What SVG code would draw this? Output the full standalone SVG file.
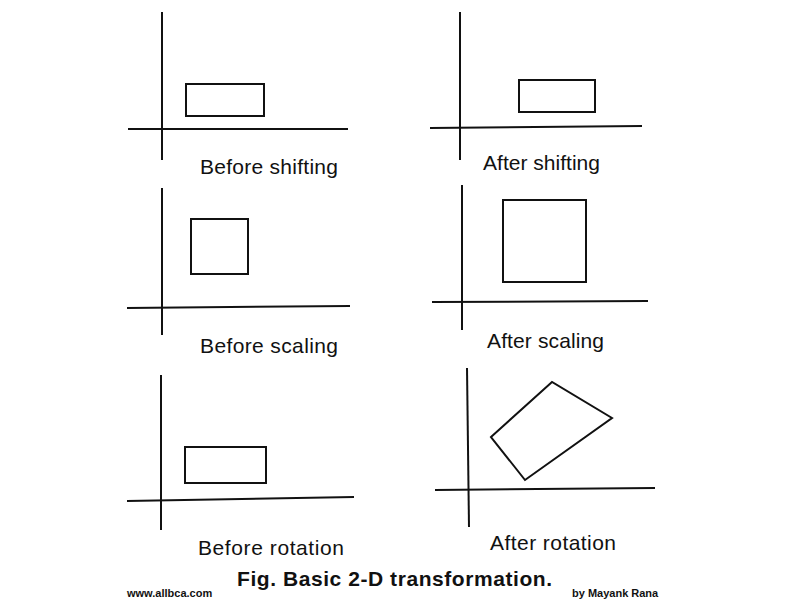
<svg xmlns="http://www.w3.org/2000/svg" width="800" height="600" viewBox="0 0 800 600">
<style>
line,.sh{stroke:#111;stroke-width:2;fill:none}
.l{font-family:"Liberation Sans",Arial,sans-serif;font-size:21px;fill:#111}
.s{font-family:"Liberation Sans",Arial,sans-serif;font-size:11px;font-weight:bold;fill:#111}
</style>
<rect x="0" y="0" width="800" height="600" fill="#fff"/>
<g id="axes">
<line x1="162" y1="12" x2="162" y2="160"/><line x1="128" y1="129" x2="348" y2="129"/>
<line x1="460" y1="12" x2="460" y2="160"/><line x1="430" y1="128" x2="642" y2="126"/>
<line x1="162" y1="188" x2="162" y2="335"/><line x1="127" y1="308" x2="350" y2="306"/>
<line x1="462" y1="185" x2="462" y2="330"/><line x1="432" y1="302" x2="648" y2="301"/>
<line x1="161" y1="375" x2="161" y2="530"/><line x1="127" y1="501" x2="354" y2="497"/>
<line x1="467" y1="368" x2="469" y2="527"/><line x1="435" y1="490" x2="655" y2="488"/>
</g>
<g id="shape1"><rect class="sh" x="186" y="84" width="78" height="32"/></g>
<g id="shape2"><rect class="sh" x="519" y="80" width="76" height="32"/></g>
<g id="shape3"><rect class="sh" x="191" y="219" width="57" height="55"/></g>
<g id="shape4"><rect class="sh" x="503" y="200" width="83" height="82"/></g>
<g id="shape5"><rect class="sh" x="185" y="447" width="81" height="36"/></g>
<g id="shape6"><polygon class="sh" points="491,437 552,382 612,418 525,480"/></g>
<g id="labels">
<text class="l" x="200" y="174" textLength="138">Before shifting</text>
<text class="l" x="483" y="170" textLength="117">After shifting</text>
<text class="l" x="200" y="353" textLength="138">Before scaling</text>
<text class="l" x="487" y="348" textLength="117">After scaling</text>
<text class="l" x="198" y="555" textLength="146">Before rotation</text>
<text class="l" x="490" y="550" textLength="126">After rotation</text>
<text x="237" y="586" textLength="315" style="font-family:'Liberation Sans',Arial,sans-serif;font-size:21px;font-weight:bold" fill="#111">Fig. Basic 2-D transformation.</text>
<text class="s" x="127" y="597">www.allbca.com</text>
<text class="s" x="572" y="597">by Mayank Rana</text>
</g>
</svg>
